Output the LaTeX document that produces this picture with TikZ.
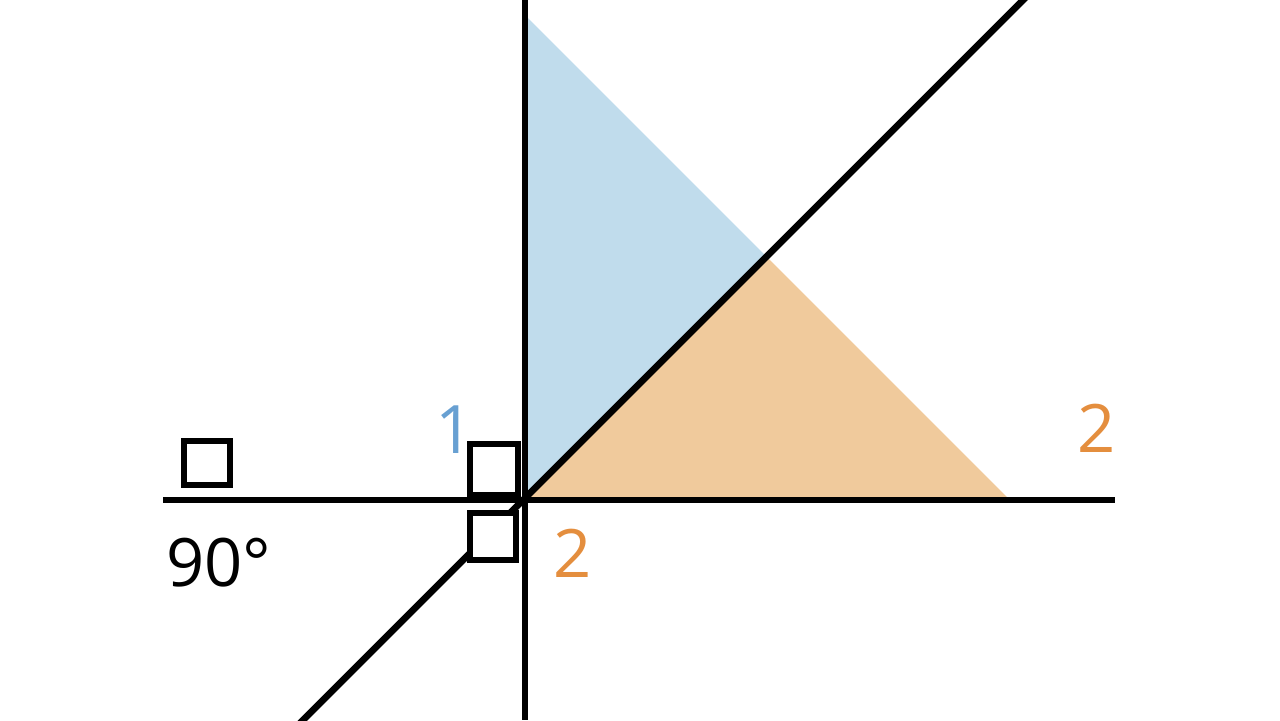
\documentclass[tikz,border=0pt]{standalone}
\usepackage{fontspec}
\setmainfont{Open Sans}
\usepackage{xcolor}
\definecolor{lightblue}{RGB}{192,220,236}
\definecolor{lightorange}{RGB}{240,202,156}
\definecolor{numblue}{RGB}{104,160,210}
\definecolor{numorange}{RGB}{228,142,62}
\usetikzlibrary{positioning}

\begin{document}
\begin{tikzpicture}[
        x=0.01cm, y=-0.01cm,
        every node/.style={font=\fontsize{19}{21}\selectfont},
        axis/.style={draw, line width=1.9pt},
        mark box/.style={draw, fill=white, line width=1.7pt},
        blue num/.style={text=numblue},
        orange num/.style={text=numorange}
    ]

    \useasboundingbox (0,0) rectangle (1280,720);
    \clip (0,0) rectangle (1280,720);

    \coordinate (O) at (525,498);
    \coordinate (top) at (528,18);
    \coordinate (mid) at (768,258);
    \coordinate (right) at (1008,498);

    % coloured triangles
    \fill[lightblue] (O) -- (top) -- (mid) -- cycle;
    \fill[lightorange] (O) -- (mid) -- (right) -- cycle;

    % lines
    \draw[axis] (525,0) -- (525,720);
    \draw[axis] (163,500) -- (1115,500);
    \draw[axis] (300,723) -- (1028,-5);

    % right-angle boxes
    \draw[mark box] (470,513) rectangle (516,560);
    \draw[mark box] (470,444) rectangle (518,495);
    \draw[mark box] (184,441) rectangle (230,485);

    % labels
    \node[blue num] (one) at (455,430) {1};
    \node[orange num] (twoA) at (573,553) {2};
    \node[orange num] (twoB) at (1097,428) {2};
    \node (angle) at (219,563) {90°};

\end{tikzpicture}
\end{document}
